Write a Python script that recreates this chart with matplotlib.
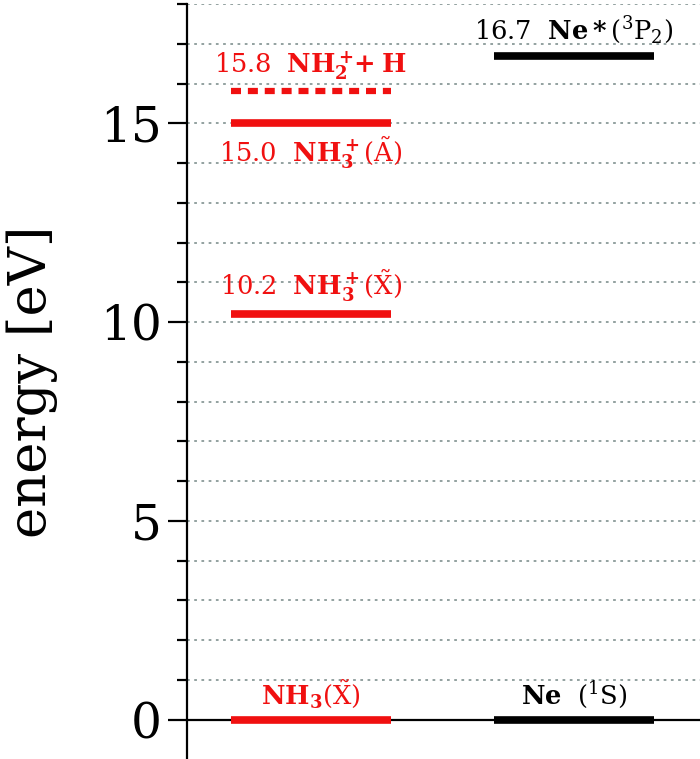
import matplotlib
matplotlib.use("Agg")
import matplotlib.pyplot as plt
from matplotlib.ticker import MultipleLocator

plt.rcParams['font.family'] = ['DejaVu Serif']
plt.rcParams['mathtext.fontset'] = 'dejavuserif'

# data
columns = ['NH3', 'Ne']
nh3_energies = [0.0, 10.2, 15.0, 15.8]
nh3_labels = [r'$\mathbf{NH_3}(\tilde{\mathrm{X}})$',
              r'10.2  $\mathbf{NH_3^+}(\tilde{\mathrm{X}})$',
              r'15.0  $\mathbf{NH_3^+}(\tilde{\mathrm{A}})$',
              r'15.8  $\mathbf{NH_2^+}\!\mathbf{+\;H}$']
nh3_styles = ['solid', 'solid', 'solid', 'dashed']
nh3_label_pos = ['above', 'above', 'below', 'above']
ne_energies = [0.0, 16.7]
ne_labels = [r'$\mathbf{Ne}$  $(^1\mathrm{S})$',
             r'16.7  $\mathbf{Ne*}(^3\mathrm{P}_2)$']
ne_label_pos = ['above', 'above']

fig = plt.figure(figsize=(7.0, 7.59), dpi=100)
ax = fig.add_axes([187/700, 0.0, 513/700, 755/759])

ax.set_ylim(-0.99, 18)
ax.set_xlim(-0.4715, 1.479)
half = 0.304

ax.yaxis.set_major_locator(MultipleLocator(5))
ax.yaxis.set_minor_locator(MultipleLocator(1))
ax.grid(True, which='both', axis='y', linestyle=(0, (1.5, 2.5)), color='#8a9a98', linewidth=1.3)
ax.set_axisbelow(True)
ax.axhline(0, color='black', linewidth=1.6, zorder=2)

for sp in ['top', 'right', 'bottom']:
    ax.spines[sp].set_visible(False)
ax.spines['left'].set_linewidth(1.6)
ax.set_xticks([])
ax.tick_params(axis='y', which='major', length=14, width=1.6, labelsize=35, pad=4)
ax.tick_params(axis='y', which='minor', length=7, width=1.6)
ax.set_ylabel('energy [eV]', fontsize=38, labelpad=30)

red = '#f01010'

def draw(xc, energies, labels, styles, positions, color):
    for e, lab, st, pos in zip(energies, labels, styles, positions):
        if st == 'dashed':
            ax.plot([xc - half, xc + half], [e, e], color=color, linewidth=4.5,
                    linestyle=(0, (1.6, 1.1)), solid_capstyle='butt', zorder=3)
        else:
            ax.plot([xc - half, xc + half], [e, e], color=color, linewidth=5.5,
                    solid_capstyle='butt', zorder=3)
        if pos == 'above':
            ax.annotate(lab, (xc, e), xytext=(0, 7), textcoords='offset points',
                        ha='center', va='bottom', fontsize=18.5, color=color)
        else:
            ax.annotate(lab, (xc, e), xytext=(0, -8), textcoords='offset points',
                        ha='center', va='top', fontsize=18.5, color=color)

draw(0, nh3_energies, nh3_labels, nh3_styles, nh3_label_pos, red)
draw(1, ne_energies, ne_labels, ['solid', 'solid'], ne_label_pos, 'black')

fig.savefig('out.png', dpi=100)
